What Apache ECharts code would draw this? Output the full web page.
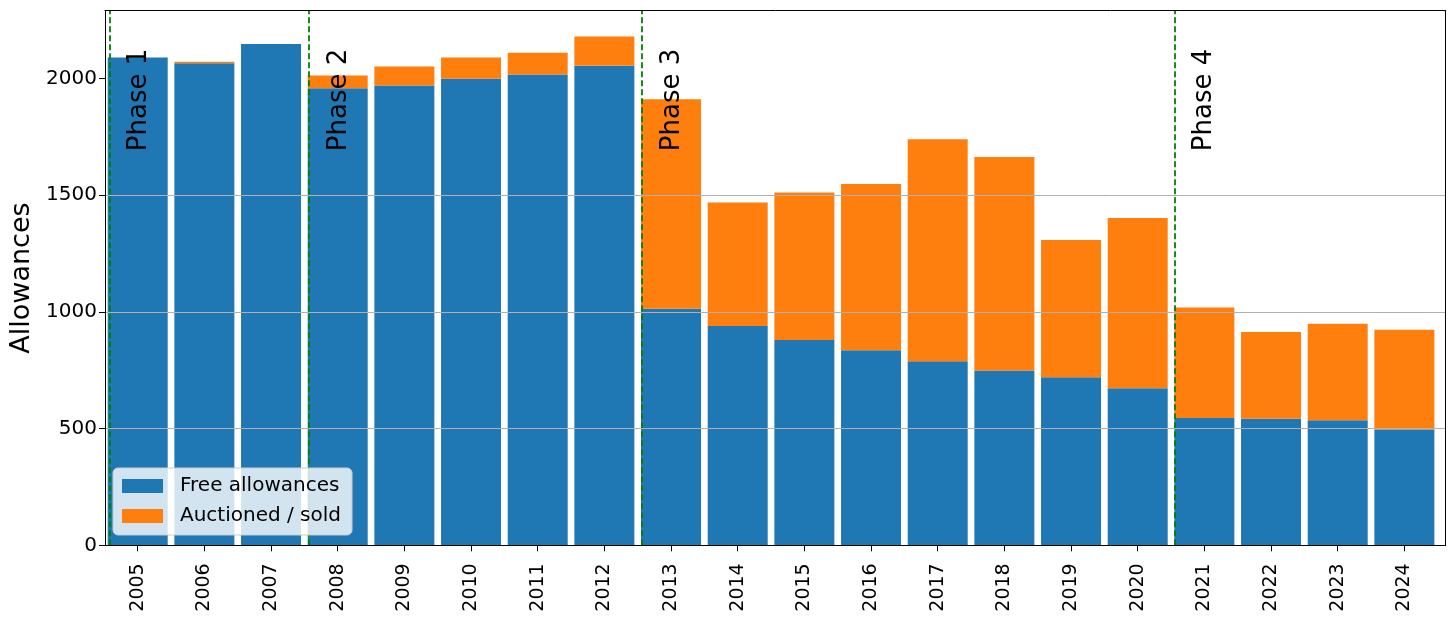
<!DOCTYPE html>
<html>
<head>
<meta charset="utf-8">
<script src="https://cdn.jsdelivr.net/npm/echarts@6/dist/echarts.min.js"></script>
<style>
html,body{margin:0;padding:0;background:#fff;}
#c{width:1456px;height:618px;}
</style>
</head>
<body>
<div id="c"></div>
<script>
const years = ['2005','2006','2007','2008','2009','2010','2011','2012','2013','2014','2015','2016','2017','2018','2019','2020','2021','2022','2023','2024'];
const freeAllowances = [2089,2065,2147,1958,1970,1999,2017,2054,1013,939,879,835,788,749,720,673,545,542,536,496];
const auctionedSold = [0,6,0,54,81,90,93,126,898,529,632,713,951,914,588,729,474,372,413,427];
const yTicks = [0,500,1000,1500,2000];
const phaseNames = ['Phase 1','Phase 2','Phase 3','Phase 4'];
const phaseStartYears = ['2005','2008','2013','2021'];

const phaseIdx = phaseStartYears.map(y=>years.indexOf(y));
const BAR_HALF = 0.45;
const PHASE_TEXT_TOP = 2127;
const Y_MAX = 2290;
const X_MIN = -0.516, X_MAX = 19.62;
const FONT = 'DejaVu Sans';

// plot frame (pixels)
const FL = 103.3, FR = 1445.7, FT = 10.7, FB = 545.3, W = 1456, H = 618;
const unit = (FR - FL) / (X_MAX - X_MIN);
const barGridLeft = FL + (-0.5 - X_MIN) * unit;
const barGridRight = FL + (years.length - 0.5 - X_MIN) * unit;

const lineOnly = {show:true,onZero:false,lineStyle:{color:'#000',width:1}};

const chart = echarts.init(document.getElementById('c'), null, {renderer:'canvas'});
chart.setOption({
  animation:false,
  backgroundColor:'#ffffff',
  textStyle:{fontFamily:FONT,color:'#000'},
  grid:[
    {left:barGridLeft,right:W-barGridRight,top:FT,bottom:H-FB,containLabel:false},
    {left:FL,right:W-FR,top:FT,bottom:H-FB,containLabel:false}
  ],
  legend:{
    data:['Free allowances','Auctioned / sold'],
    orient:'vertical', left:113, top:468, icon:'rect',
    itemWidth:41, itemHeight:14, itemGap:10,
    padding:[8,11,9,9],
    backgroundColor:'rgba(255,255,255,0.8)',
    borderColor:'#cccccc', borderWidth:1, borderRadius:5,
    textStyle:{fontFamily:FONT,fontSize:20,lineHeight:20,color:'#000',padding:[0,0,0,12]},
    z:20
  },
  xAxis:[{
    type:'category', data:years, gridIndex:0, boundaryGap:true, z:10,
    axisLine:{show:false},
    axisTick:{show:true,alignWithLabel:true,length:6,lineStyle:{color:'#000',width:1}},
    axisLabel:{rotate:90,margin:18,fontSize:19,color:'#000',fontFamily:FONT,interval:0},
    splitLine:{show:false}
  },{
    type:'value', gridIndex:1, min:X_MIN, max:X_MAX, position:'bottom', z:10,
    axisLine:lineOnly, axisTick:{show:false}, axisLabel:{show:false}, splitLine:{show:false}
  },{
    type:'value', gridIndex:1, min:X_MIN, max:X_MAX, position:'top', z:10,
    axisLine:lineOnly, axisTick:{show:false}, axisLabel:{show:false}, splitLine:{show:false}
  }],
  yAxis:[{
    type:'value', gridIndex:0, min:0, max:Y_MAX, show:false
  },{
    type:'value', gridIndex:1, min:0, max:Y_MAX, interval:500, position:'left', z:10,
    name:'Allowances', nameLocation:'middle', nameGap:70, nameRotate:90,
    nameTextStyle:{fontSize:27,color:'#000',fontFamily:FONT},
    axisLine:lineOnly,
    axisTick:{show:true,customValues:yTicks,length:6,lineStyle:{color:'#000',width:1}},
    axisLabel:{customValues:yTicks,formatter:v=>String(v),fontSize:20,margin:8,color:'#000',fontFamily:FONT},
    splitLine:{show:true,showMinLine:false,showMaxLine:false,lineStyle:{color:'#b0b0b0',width:1}}
  },{
    type:'value', gridIndex:1, min:0, max:Y_MAX, position:'right', z:10,
    axisLine:lineOnly, axisTick:{show:false}, axisLabel:{show:false}, splitLine:{show:false}
  }],
  series:[{
    name:'Free allowances', type:'bar', stack:'total', barWidth:'90%', z:2,
    xAxisIndex:0, yAxisIndex:0,
    itemStyle:{color:'#1f77b4'},
    data:freeAllowances
  },{
    name:'Auctioned / sold', type:'bar', stack:'total', barWidth:'90%', z:2,
    xAxisIndex:0, yAxisIndex:0,
    itemStyle:{color:'#ff7f0e'},
    data:auctionedSold
  },{
    name:'phases', type:'scatter', symbolSize:0, z:15, silent:true,
    xAxisIndex:1, yAxisIndex:1,
    data:phaseIdx.map((p,k)=>({name:phaseNames[k],value:[p,PHASE_TEXT_TOP]})),
    label:{show:true,formatter:'{b}',rotate:90,align:'right',verticalAlign:'middle',position:'inside',fontSize:26,color:'#000000',opacity:1,textBorderWidth:0,fontFamily:FONT},
    markLine:{
      silent:true, symbol:['none','none'], label:{show:false},
      lineStyle:{color:'#008000',type:[6,3],width:1.8,opacity:1},
      data:phaseIdx.map(p=>({xAxis:p-BAR_HALF}))
    }
  }]
});
</script>
</body>
</html>
